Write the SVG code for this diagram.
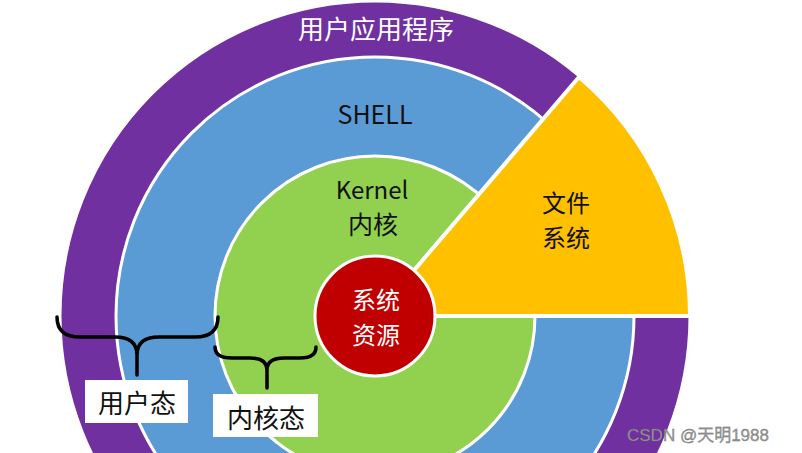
<svg xmlns="http://www.w3.org/2000/svg" width="802" height="453" viewBox="0 0 802 453">
<style>
.t{font-family:"Noto Sans CJK SC","Noto Sans",sans-serif;text-anchor:middle}
.ring{stroke:#fff;stroke-width:3}
.brace{fill:none;stroke:#000;stroke-width:3.5;stroke-linecap:round;stroke-linejoin:round}
.box{fill:#fff}
</style>
<rect width="802" height="453" fill="#fff"/>
<g id="app">
<circle class="ring" cx="375" cy="316" r="315" fill="#7030A0"/>
<text class="t" x="376" y="39" font-size="26" fill="#fff">用户应用程序</text>
</g>
<g id="shell">
<circle class="ring" cx="375" cy="316" r="259" fill="#5B9BD5"/>
<text class="t" x="375" y="124" font-size="25" fill="#111">SHELL</text>
</g>
<g id="kernel">
<circle class="ring" cx="375" cy="316" r="160" fill="#92D050"/>
<text class="t" fill="#111"><tspan x="372" y="199" font-size="24">Kernel</tspan><tspan x="373" y="234" font-size="25">内核</tspan></text>
</g>
<g id="filesystem">
<path d="M375,316 L579,77 A314,314 0 0 1 690,316 Z" fill="#FFC000" stroke="#fff" stroke-width="4" stroke-linejoin="miter"/>
<text class="t" font-size="24" fill="#111"><tspan x="566" y="212">文件</tspan><tspan x="566" y="247">系统</tspan></text>
</g>
<g id="resources">
<circle cx="375" cy="316" r="60" fill="#C00000" stroke="#fff" stroke-width="3"/>
<text class="t" font-size="24" fill="#fff"><tspan x="376" y="309">系统</tspan><tspan x="376" y="344">资源</tspan></text>
</g>
<g id="connectors">
<path class="brace" d="M57,317 Q57,337 80,337 L115,337 Q137,337 137,355 L137,375 M137,355 Q137,337 159,337 L195,337 Q218,337 218,317"/>
<path class="brace" d="M215,347 Q215,358 232,358 L250,358 Q267,358 267,370 L267,388 M267,370 Q267,358 284,358 L300,358 Q316,358 316,347"/>
</g>
<g id="user-mode">
<rect class="box" x="85" y="380" width="103" height="43"/>
<text class="t" x="137" y="413" font-size="26" fill="#111">用户态</text>
</g>
<g id="kernel-mode">
<rect class="box" x="213" y="394" width="105" height="43"/>
<text class="t" x="266" y="428" font-size="26" fill="#111">内核态</text>
</g>
<text x="627" y="441" font-family="Liberation Sans,Noto Sans CJK SC,sans-serif" font-size="17" fill="#9a9a9a" stroke="#666" stroke-width="0.3">CSDN @天明1988</text>
</svg>
